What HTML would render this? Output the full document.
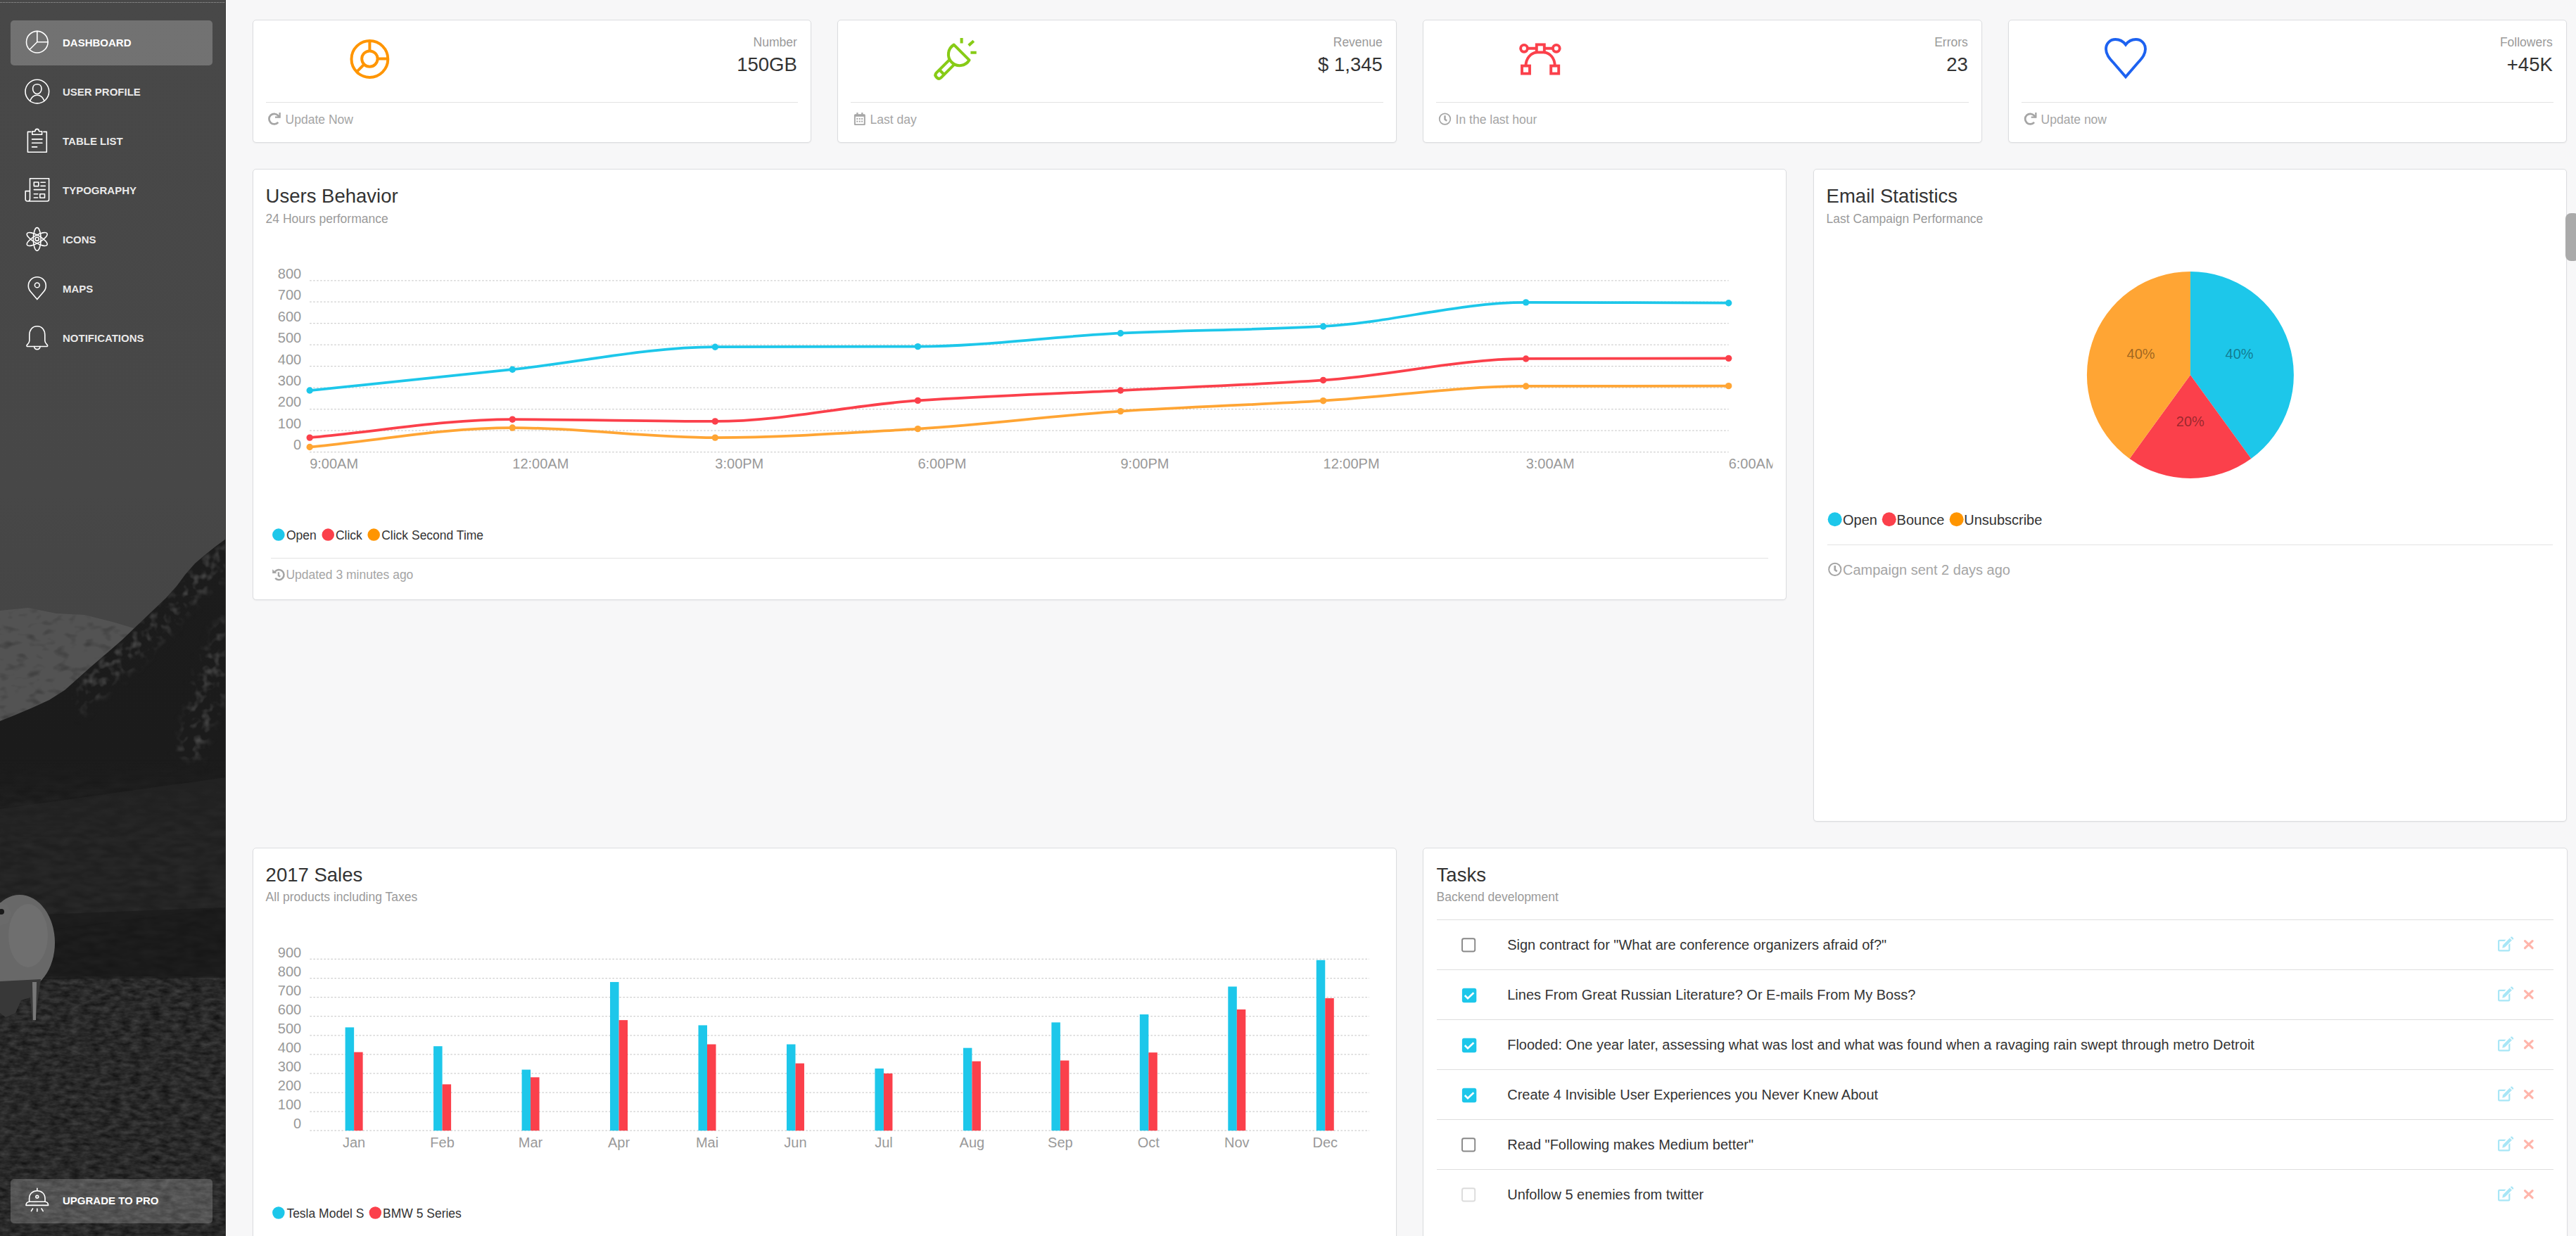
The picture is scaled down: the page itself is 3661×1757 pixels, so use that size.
<!DOCTYPE html><html><head><meta charset="utf-8"><title>Light Bootstrap Dashboard</title><style>

*{margin:0;padding:0;box-sizing:border-box}
html,body{width:3661px;height:1757px;overflow:hidden;background:#f7f7f8;font-family:'Liberation Sans', Arial, sans-serif}
.t{position:absolute;white-space:nowrap;font-family:'Liberation Sans', Arial, sans-serif}
.card{position:absolute;background:#fff;border:1px solid #dcdde0;border-radius:5px;box-shadow:0 1px 2px rgba(0,0,0,.05)}
.sbbg{position:absolute;left:0;top:0}
.ov{position:absolute;left:0;top:0}
.grid{stroke:rgba(0,0,0,.2);stroke-width:1.25;stroke-dasharray:2.5 2.5}
.lbl{font-family:'Liberation Sans', Arial, sans-serif;font-size:20px;fill:#999}
.plbl{font-family:'Liberation Sans', Arial, sans-serif;font-size:20px;fill:rgba(0,0,0,.4);text-anchor:middle}

</style></head><body>
<svg class="sbbg" width="321" height="1757" viewBox="0 0 321 1757"><defs>
<linearGradient id="sky" x1="0" y1="0" x2="0" y2="1"><stop offset="0" stop-color="#484848"/><stop offset="0.4" stop-color="#474747"/><stop offset="0.5" stop-color="#454545"/><stop offset="0.6" stop-color="#434343"/></linearGradient>
<linearGradient id="grd" x1="0" y1="0" x2="0" y2="1"><stop offset="0" stop-color="#1c1c1c"/><stop offset="0.3" stop-color="#1b1b1b"/><stop offset="0.45" stop-color="#1e1e1e"/><stop offset="0.62" stop-color="#222"/><stop offset="1" stop-color="#262626"/></linearGradient>
<filter id="rock" x="0" y="0" width="100%" height="100%" color-interpolation-filters="sRGB"><feTurbulence type="fractalNoise" baseFrequency="0.07 0.16" numOctaves="3" seed="3"/><feColorMatrix type="matrix" values="0.22 0 0 0 0.05  0.22 0 0 0 0.05  0.22 0 0 0 0.05  0 0 0 0 1"/></filter>
<filter id="rock2" x="0" y="0" width="100%" height="100%" color-interpolation-filters="sRGB"><feTurbulence type="fractalNoise" baseFrequency="0.04 0.1" numOctaves="2" seed="11"/><feColorMatrix type="matrix" values="0.12 0 0 0 0.06  0.12 0 0 0 0.06  0.12 0 0 0 0.06  0 0 0 0 1"/></filter>
<filter id="spk" x="0" y="0" width="100%" height="100%" color-interpolation-filters="sRGB"><feTurbulence type="fractalNoise" baseFrequency="0.08" numOctaves="2" seed="7"/><feColorMatrix type="matrix" values="0 0 0 0 0.31  0 0 0 0 0.31  0 0 0 0 0.31  0 0 0 2.4 -1.15"/></filter>
<filter id="snw" x="0" y="0" width="100%" height="100%" color-interpolation-filters="sRGB"><feTurbulence type="fractalNoise" baseFrequency="0.05 0.09" numOctaves="2" seed="5"/><feColorMatrix type="matrix" values="0 0 0 0 0.2  0 0 0 0 0.2  0 0 0 0 0.2  0 0 0 1.8 -0.95"/></filter>
<clipPath id="mtn"><path d="M321,766 L306,777 L291,789 L277,801 L263,817 L252,832 L236,850 L216,869 L195,889 L172,911 L150,930 L129,948 L110,965 L92,981 L70,995 L46,1006 L20,1017 L0,1025 L0,1120 L321,1120 Z"/></clipPath>
<linearGradient id="fx" x1="0" y1="0" x2="1" y2="0"><stop offset="0" stop-color="#000"/><stop offset="0.45" stop-color="#fff"/><stop offset="1" stop-color="#fff"/></linearGradient><mask id="mk" maskUnits="userSpaceOnUse" x="0" y="0" width="321" height="1757"><rect x="200" y="760" width="121" height="330" fill="url(#fx)"/></mask><linearGradient id="fy" x1="0" y1="0" x2="0" y2="1"><stop offset="0" stop-color="#000"/><stop offset="0.4" stop-color="#fff"/></linearGradient><mask id="mk2" maskUnits="userSpaceOnUse" x="0" y="0" width="321" height="1757"><rect x="0" y="1080" width="321" height="310" fill="url(#fy)"/></mask><filter id="bl6" x="-20%" y="-20%" width="140%" height="140%"><feGaussianBlur stdDeviation="7"/></filter><mask id="rbm" maskUnits="userSpaceOnUse" x="0" y="700" width="321" height="450"><g filter="url(#bl6)" fill="#fff"><path d="M321,766 L306,777 L291,789 L277,801 L263,817 L252,832 L236,850 L216,869 L195,889 L172,911 L150,930 L129,948 L110,965 L110,1020 L129,1003 L150,985 L172,966 L195,944 L216,924 L236,905 L252,887 L263,872 L277,856 L291,844 L306,832 L321,821 Z"/><path d="M321,870 L305,890 L285,940 L268,1000 L250,1075 L285,1080 L305,1020 L321,990 Z"/></g></mask><clipPath id="snc"><path d="M0,868 L40,864 L80,872 L120,874 L160,884 L200,896 L225,875 L240,860 L240,1000 L0,1040 Z"/></clipPath>
</defs><rect width="321" height="1757" fill="url(#sky)"/><path d="M0,868 L40,864 L80,872 L120,874 L160,884 L200,896 L225,875 L240,860 L240,1000 L0,1040 Z" fill="#535353"/><rect x="0" y="850" width="240" height="190" filter="url(#snw)" clip-path="url(#snc)"/><path d="M321,766 L306,777 L291,789 L277,801 L263,817 L252,832 L236,850 L216,869 L195,889 L172,911 L150,930 L129,948 L110,965 L92,981 L70,995 L46,1006 L20,1017 L0,1025 L0,1757 L321,1757 Z" fill="url(#grd)"/><g clip-path="url(#mtn)"><rect x="100" y="760" width="221" height="330" filter="url(#spk)" mask="url(#rbm)"/></g><g mask="url(#mk2)"><rect x="0" y="1080" width="321" height="310" filter="url(#rock2)"/></g><rect x="0" y="1388" width="321" height="369" filter="url(#rock)"/><path d="M0,1150 L321,1105 L321,1290 L0,1330 Z" fill="#2a2a2a" opacity="0.45"/><path d="M60,1300 L321,1290 L321,1390 L60,1392 Z" fill="#191919" opacity="0.6"/><ellipse cx="28" cy="1340" rx="50" ry="68" fill="#686868"/><ellipse cx="40" cy="1330" rx="28" ry="45" fill="#727272" opacity="0.7"/><path d="M0,1395 L58,1392 L55,1412 L50,1452 L46,1453 L43,1418 L30,1422 L22,1440 L8,1446 L0,1440 Z" fill="#383838"/><path d="M46,1396 L52,1396 L51,1450 L47,1450 Z" fill="#777"/><path d="M0,1283 L10,1286 L16,1298 L12,1312 L0,1316 Z" fill="#6a6a6a"/><circle cx="2" cy="1296" r="4" fill="#1a1a1a"/></svg>
<div style="position:absolute;left:320px;top:0px;width:1px;height:1757px;background:#393939"></div>
<div style="position:absolute;left:321px;top:0px;width:1px;height:1757px;background:#fff"></div>
<div style="position:absolute;left:0px;top:3px;width:320px;height:1px;background:repeating-linear-gradient(90deg,rgba(255,255,255,.28) 0 3px,rgba(255,255,255,.12) 3px 4px)"></div>
<div style="position:absolute;left:15px;top:29px;width:287px;height:64px;background:rgba(255,255,255,.23);border-radius:5px"></div>
<div style="position:absolute;left:15px;top:1676px;width:287px;height:63px;background:rgba(255,255,255,.2);border-radius:5px"></div>
<div class="t" style="top:52.90px;font-size:15px;line-height:15px;color:#fff;font-weight:700;left:89.00px;">DASHBOARD</div>
<div class="t" style="top:122.90px;font-size:15px;line-height:15px;color:rgba(255,255,255,.9);font-weight:700;left:89.00px;">USER PROFILE</div>
<div class="t" style="top:192.90px;font-size:15px;line-height:15px;color:rgba(255,255,255,.9);font-weight:700;left:89.00px;">TABLE LIST</div>
<div class="t" style="top:262.90px;font-size:15px;line-height:15px;color:rgba(255,255,255,.9);font-weight:700;left:89.00px;">TYPOGRAPHY</div>
<div class="t" style="top:332.90px;font-size:15px;line-height:15px;color:rgba(255,255,255,.9);font-weight:700;left:89.00px;">ICONS</div>
<div class="t" style="top:402.90px;font-size:15px;line-height:15px;color:rgba(255,255,255,.9);font-weight:700;left:89.00px;">MAPS</div>
<div class="t" style="top:472.90px;font-size:15px;line-height:15px;color:rgba(255,255,255,.9);font-weight:700;left:89.00px;">NOTIFICATIONS</div>
<div class="t" style="top:1698.50px;font-size:15px;line-height:15px;color:#fff;font-weight:700;left:89.00px;">UPGRADE TO PRO</div>
<svg class="ov" width="321" height="1757"><g fill="none" stroke="#fff" stroke-width="1.6" stroke-linecap="round" stroke-linejoin="round"><circle cx="52.8" cy="59.7" r="15.3"/><path d="M52.8,44.4 V59.7 H68.1 M52.8,59.7 L42,70.5"/></g><g fill="none" stroke="#fff" stroke-width="1.6" stroke-linecap="round" stroke-linejoin="round" stroke="#e8e8e8"><circle cx="52.8" cy="130.1" r="16.8"/><path d="M46.6,126 C46.6,122 49.3,119.8 52.8,119.8 C56.3,119.8 59,122 59,126 C59,130 56.5,133.5 52.8,133.5 C49.1,133.5 46.6,130 46.6,126 Z"/><path d="M42.6,143.5 C44.5,138.3 48,135.2 52.8,135.2 C57.6,135.2 61.1,138.3 63,143.5"/></g><g fill="none" stroke="#fff" stroke-width="1.6" stroke-linecap="round" stroke-linejoin="round" stroke="#e8e8e8" stroke-linecap="butt" stroke-linejoin="miter"><path d="M43.8,187.4 H39.4 V216.2 H66.3 V187.4 H61.9"/><path d="M45.8,191.2 H59.6 V186.8 H55.6 C55.4,184.6 54.3,183.4 52.7,183.4 C51.1,183.4 50,184.6 49.8,186.8 H45.8 Z"/><path d="M45.6,197.9 H59.9 M45.6,203.2 H59.9 M45.6,208.9 H52.6"/></g><g fill="none" stroke="#fff" stroke-width="1.6" stroke-linecap="round" stroke-linejoin="round" stroke="#e8e8e8" stroke-linecap="butt" stroke-linejoin="round"><path d="M42.5,253.8 H69.6 V283.5 C69.6,285 68.6,286 67,286 H39 C37.2,286 36.2,284.6 36.2,283 V271.6 H42.5 Z M42.5,271.6 V283 C42.5,284.8 41.4,286 39.4,286"/><rect x="48.3" y="259" width="6.5" height="5.6"/><rect x="56.8" y="275.7" width="6.7" height="5.6"/><path d="M58,259.3 H64.3 M58,264.4 H64.3 M48.3,269.6 H64.3 M48.3,275.8 H53.8 M48.3,281 H53.8"/></g><g fill="none" stroke="#fff" stroke-width="1.6" stroke-linecap="round" stroke-linejoin="round" stroke="#e8e8e8" stroke-width="1.5"><ellipse cx="52.7" cy="340" rx="5.4" ry="16.4"/><ellipse cx="52.7" cy="340" rx="5.4" ry="16.4" transform="rotate(60 52.7 340)"/><ellipse cx="52.7" cy="340" rx="5.4" ry="16.4" transform="rotate(-60 52.7 340)"/><circle cx="52.7" cy="339.8" r="2.6"/></g><g fill="none" stroke="#fff" stroke-width="1.6" stroke-linecap="round" stroke-linejoin="round" stroke="#e8e8e8" stroke-width="1.5"><path d="M52.8,425.6 L43.2,414.2 A12.5,12.5 0 1 1 62.4,414.2 Z"/><circle cx="52.8" cy="405.4" r="3.4"/></g><g fill="none" stroke="#fff" stroke-width="1.6" stroke-linecap="round" stroke-linejoin="round" stroke="#e8e8e8" stroke-width="1.5"><path d="M52.8,463.8 C45.5,463.8 41.8,469.5 41.8,476 V484.5 C41.8,487 39.5,489 38.2,490.6 C37.5,491.6 38.2,492.5 39.5,492.5 H66.1 C67.4,492.5 68.1,491.6 67.4,490.6 C66.1,489 63.8,487 63.8,484.5 V476 C63.8,469.5 60.1,463.8 52.8,463.8 Z"/><path d="M48.6,492.6 C48.9,495.2 50.6,496.6 52.8,496.6 C55,496.6 56.7,495.2 57,492.6"/></g><g fill="none" stroke="#fff" stroke-width="1.6" stroke-linecap="round" stroke-linejoin="round" stroke-width="1.5"><path d="M52.8,1689.3 V1692.6"/><path d="M41.6,1708 V1703.6 C41.6,1697 46.4,1692.8 52.8,1692.8 C59.2,1692.8 64,1697 64,1703.6 V1708"/><circle cx="52.8" cy="1701.3" r="1.9"/><path d="M37,1713.4 C37,1710 39.5,1708.2 42.5,1708.2 H63.1 C66.1,1708.2 68.6,1710 68.6,1713.4 Z"/><path d="M46.6,1718 L44.4,1721.6 M52.8,1718.2 V1722 M59,1718 L61.2,1721.6"/></g></svg>
<div class="card" style="left:359px;top:28px;width:794px;height:175px"></div>
<div style="position:absolute;left:378px;top:145px;width:756px;height:1px;background:#e3e3e3"></div>
<div class="t" style="top:51.89px;font-size:17.5px;line-height:17.5px;color:#9a9a9a;right:2528.20px;text-align:right;">Number</div>
<div class="t" style="top:78.42px;font-size:27.5px;line-height:27.5px;color:#333;right:2528.20px;text-align:right;">150GB</div>
<div class="t" style="top:162.09px;font-size:17.5px;line-height:17.5px;color:#a5a5a5;left:405.60px;">Update Now</div>
<div class="card" style="left:1190px;top:28px;width:795px;height:175px"></div>
<div style="position:absolute;left:1209px;top:145px;width:757px;height:1px;background:#e3e3e3"></div>
<div class="t" style="top:51.89px;font-size:17.5px;line-height:17.5px;color:#9a9a9a;right:1696.20px;text-align:right;">Revenue</div>
<div class="t" style="top:78.42px;font-size:27.5px;line-height:27.5px;color:#333;right:1696.20px;text-align:right;">$ 1,345</div>
<div class="t" style="top:162.09px;font-size:17.5px;line-height:17.5px;color:#a5a5a5;left:1236.60px;">Last day</div>
<div class="card" style="left:2022px;top:28px;width:795px;height:175px"></div>
<div style="position:absolute;left:2041px;top:145px;width:757px;height:1px;background:#e3e3e3"></div>
<div class="t" style="top:51.89px;font-size:17.5px;line-height:17.5px;color:#9a9a9a;right:864.20px;text-align:right;">Errors</div>
<div class="t" style="top:78.42px;font-size:27.5px;line-height:27.5px;color:#333;right:864.20px;text-align:right;">23</div>
<div class="t" style="top:162.09px;font-size:17.5px;line-height:17.5px;color:#a5a5a5;left:2068.60px;">In the last hour</div>
<div class="card" style="left:2854px;top:28px;width:794px;height:175px"></div>
<div style="position:absolute;left:2873px;top:145px;width:756px;height:1px;background:#e3e3e3"></div>
<div class="t" style="top:51.89px;font-size:17.5px;line-height:17.5px;color:#9a9a9a;right:33.20px;text-align:right;">Followers</div>
<div class="t" style="top:78.42px;font-size:27.5px;line-height:27.5px;color:#333;right:33.20px;text-align:right;">+45K</div>
<div class="t" style="top:162.09px;font-size:17.5px;line-height:17.5px;color:#a5a5a5;left:2900.60px;">Update now</div>
<div class="card" style="left:359px;top:240px;width:2180px;height:613px"></div>
<div class="t" style="top:264.52px;font-size:27.5px;line-height:27.5px;color:#333;left:377.60px;">Users Behavior</div>
<div class="t" style="top:303.09px;font-size:17.5px;line-height:17.5px;color:#9a9a9a;left:377.60px;">24 Hours performance</div>
<div class="t" style="top:752.59px;font-size:17.5px;line-height:17.5px;color:#333;left:406.90px;">Open</div>
<div class="t" style="top:752.59px;font-size:17.5px;line-height:17.5px;color:#333;left:476.90px;">Click</div>
<div class="t" style="top:752.59px;font-size:17.5px;line-height:17.5px;color:#333;left:542.20px;">Click Second Time</div>
<div style="position:absolute;left:385px;top:793px;width:2128px;height:1px;background:#e3e3e3"></div>
<div class="t" style="top:809.39px;font-size:17.5px;line-height:17.5px;color:#a5a5a5;left:406.40px;">Updated 3 minutes ago</div>
<div class="card" style="left:2577px;top:240px;width:1071px;height:928px"></div>
<div class="t" style="top:264.52px;font-size:27.5px;line-height:27.5px;color:#333;left:2595.60px;">Email Statistics</div>
<div class="t" style="top:303.09px;font-size:17.5px;line-height:17.5px;color:#9a9a9a;left:2595.60px;">Last Campaign Performance</div>
<div class="t" style="top:728.77px;font-size:20px;line-height:20px;color:#333;left:2619.00px;">Open</div>
<div class="t" style="top:728.77px;font-size:20px;line-height:20px;color:#333;left:2695.60px;">Bounce</div>
<div class="t" style="top:728.77px;font-size:20px;line-height:20px;color:#333;left:2791.20px;">Unsubscribe</div>
<div style="position:absolute;left:2597px;top:774px;width:1031px;height:1px;background:#e3e3e3"></div>
<div class="t" style="top:800.07px;font-size:20px;line-height:20px;color:#a5a5a5;left:2619.00px;">Campaign sent 2 days ago</div>
<div class="card" style="left:359px;top:1205px;width:1626px;height:600px"></div>
<div class="t" style="top:1229.72px;font-size:27.5px;line-height:27.5px;color:#333;left:377.60px;">2017 Sales</div>
<div class="t" style="top:1266.99px;font-size:17.5px;line-height:17.5px;color:#9a9a9a;left:377.60px;">All products including Taxes</div>
<div class="t" style="top:1716.59px;font-size:17.5px;line-height:17.5px;color:#333;left:407.40px;">Tesla Model S</div>
<div class="t" style="top:1716.59px;font-size:17.5px;line-height:17.5px;color:#333;left:544.00px;">BMW 5 Series</div>
<div class="card" style="left:2022px;top:1205px;width:1627px;height:600px"></div>
<div class="t" style="top:1229.62px;font-size:27.5px;line-height:27.5px;color:#333;left:2041.60px;">Tasks</div>
<div class="t" style="top:1266.89px;font-size:17.5px;line-height:17.5px;color:#9a9a9a;left:2041.60px;">Backend development</div>
<div style="position:absolute;left:2042px;top:1307px;width:1587px;height:1px;background:#dedede"></div>
<div style="position:absolute;left:2042px;top:1378px;width:1587px;height:1px;background:#dedede"></div>
<div style="position:absolute;left:2042px;top:1449px;width:1587px;height:1px;background:#dedede"></div>
<div style="position:absolute;left:2042px;top:1520px;width:1587px;height:1px;background:#dedede"></div>
<div style="position:absolute;left:2042px;top:1591px;width:1587px;height:1px;background:#dedede"></div>
<div style="position:absolute;left:2042px;top:1662px;width:1587px;height:1px;background:#dedede"></div>
<div class="t" style="top:1333.47px;font-size:20px;line-height:20px;color:#333;left:2142.20px;">Sign contract for &quot;What are conference organizers afraid of?&quot;</div>
<div class="t" style="top:1404.47px;font-size:20px;line-height:20px;color:#333;left:2142.20px;">Lines From Great Russian Literature? Or E-mails From My Boss?</div>
<div class="t" style="top:1475.47px;font-size:20px;line-height:20px;color:#333;left:2142.20px;">Flooded: One year later, assessing what was lost and what was found when a ravaging rain swept through metro Detroit</div>
<div class="t" style="top:1546.47px;font-size:20px;line-height:20px;color:#333;left:2142.20px;">Create 4 Invisible User Experiences you Never Knew About</div>
<div class="t" style="top:1617.47px;font-size:20px;line-height:20px;color:#333;left:2142.20px;">Read &quot;Following makes Medium better&quot;</div>
<div class="t" style="top:1688.47px;font-size:20px;line-height:20px;color:#333;left:2142.20px;">Unfollow 5 enemies from twitter</div>
<div style="position:absolute;left:3646px;top:303px;width:20px;height:68px;background:#aaa;border-radius:8px"></div>
<svg class="ov" width="3661" height="1757" viewBox="0 0 3661 1757"><g transform="translate(389.7,169.1) scale(1.0)"><path d="M7.7,-2.2 L5.6,-4.7 A7.3,7.3 0 1 0 5.6,4.7" fill="none" stroke="#a5a5a5" stroke-width="2.75"/><path d="M9.1,-9.1 L9.1,-1.3 L1.3,-1.3 L1.3,-3.6 L6.8,-3.6 L6.8,-9.1 Z" fill="#a5a5a5"/></g><g transform="translate(1213.9,162.3)" fill="#a5a5a5"><path fill-rule="evenodd" d="M1.5,0 H14.4 A1.5,1.5 0 0 1 15.9,1.5 V14.1 A1.5,1.5 0 0 1 14.4,15.6 H1.5 A1.5,1.5 0 0 1 0,14.1 V1.5 A1.5,1.5 0 0 1 1.5,0 Z M1.9,3.5 V13.9 H13.9 V3.5 Z"/><rect x="3.4" y="-2.2" width="2.2" height="2.6"/><rect x="10.3" y="-2.2" width="2.2" height="2.6"/><rect x="3.4" y="5.6" width="2" height="2"/><rect x="3.4" y="9.3" width="2" height="2"/><rect x="6.9" y="5.6" width="2" height="2"/><rect x="6.9" y="9.3" width="2" height="2"/><rect x="10.2" y="5.6" width="2" height="2"/><rect x="10.2" y="9.3" width="2" height="2"/></g><g transform="translate(2053.5,169.1) scale(1.0)" fill="none" stroke="#a5a5a5"><circle r="7.8" stroke-width="1.75"/><path d="M0,-4.9 V0.6 L2.7,2.6" stroke-width="2.4" stroke-linejoin="miter"/></g><g transform="translate(2885.4,169.1) scale(1.0)"><path d="M7.7,-2.2 L5.6,-4.7 A7.3,7.3 0 1 0 5.6,4.7" fill="none" stroke="#a5a5a5" stroke-width="2.75"/><path d="M9.1,-9.1 L9.1,-1.3 L1.3,-1.3 L1.3,-3.6 L6.8,-3.6 L6.8,-9.1 Z" fill="#a5a5a5"/></g><g fill="none" stroke="#FF9500" stroke-width="4"><circle cx="525.4" cy="84" r="25.9"/><circle cx="525.4" cy="83.6" r="11.2"/><path d="M525.4,58.1 V72.4 M536.6,83.6 H551.3 M517.5,91.5 L507.1,101.9"/></g><g transform="translate(1366.6,74.5) rotate(45)" fill="none" stroke="#87CB16" stroke-width="4.1" stroke-linejoin="round"><path d="M-15.4,0 L15.4,0 A15.9,15.9 0 1 1 -15.4,0 Z"/><path d="M-4.8,19.1 V46 Q-4.8,50.2 0,50.2 Q4.8,50.2 4.8,46 V19.1 M-4.8,39.8 H4.8"/></g><g stroke="#87CB16" stroke-width="4.1" fill="none"><path d="M1366.6,54.1 V61.6 M1376.7,64.6 L1383.8,58.3 M1379.4,74.8 H1387.7"/></g><g fill="none" stroke="#FB404B" stroke-width="3.9"><circle cx="2166" cy="68.8" r="4.9"/><circle cx="2211.8" cy="68.8" r="4.9"/><rect x="2183.8" y="63.4" width="11" height="11"/><rect x="2163" y="93.6" width="11" height="11"/><rect x="2204.2" y="93.6" width="11" height="11"/><path d="M2170.9,68.8 H2183.8 M2194.8,68.8 H2206.9"/><path d="M2168.5,93.6 C2168.5,83 2175,75.5 2184.5,74 M2209.7,93.6 C2209.7,83 2203.5,75.5 2194,74"/></g><path d="M3021,63.5 C3016.5,57.5 3011.5,56 3006.5,56 C2999,56 2993,61.5 2993,69.8 C2993,77 2997.5,82.5 3003.5,89 L3021,109.3 L3038.5,89 C3044.5,82.5 3049,77 3049,69.8 C3049,61.5 3043,56 3035.5,56 C3030.5,56 3025.5,57.5 3021,63.5 Z" fill="none" stroke="#1D62F0" stroke-width="3.9" stroke-linejoin="miter"/><line x1="440.2" y1="642.50" x2="2456.7" y2="642.50" class="grid"/><text x="428.2" y="639.40" class="lbl" text-anchor="end">0</text><line x1="440.2" y1="612.03" x2="2456.7" y2="612.03" class="grid"/><text x="428.2" y="608.93" class="lbl" text-anchor="end">100</text><line x1="440.2" y1="581.56" x2="2456.7" y2="581.56" class="grid"/><text x="428.2" y="578.46" class="lbl" text-anchor="end">200</text><line x1="440.2" y1="551.09" x2="2456.7" y2="551.09" class="grid"/><text x="428.2" y="547.99" class="lbl" text-anchor="end">300</text><line x1="440.2" y1="520.62" x2="2456.7" y2="520.62" class="grid"/><text x="428.2" y="517.52" class="lbl" text-anchor="end">400</text><line x1="440.2" y1="490.16" x2="2456.7" y2="490.16" class="grid"/><text x="428.2" y="487.06" class="lbl" text-anchor="end">500</text><line x1="440.2" y1="459.69" x2="2456.7" y2="459.69" class="grid"/><text x="428.2" y="456.59" class="lbl" text-anchor="end">600</text><line x1="440.2" y1="429.22" x2="2456.7" y2="429.22" class="grid"/><text x="428.2" y="426.12" class="lbl" text-anchor="end">700</text><line x1="440.2" y1="398.75" x2="2456.7" y2="398.75" class="grid"/><text x="428.2" y="395.65" class="lbl" text-anchor="end">800</text><clipPath id="lc"><rect x="300" y="600" width="2219.5" height="100"/></clipPath><g clip-path="url(#lc)"><text x="440.20" y="665.8" class="lbl">9:00AM</text><text x="728.27" y="665.8" class="lbl">12:00AM</text><text x="1016.34" y="665.8" class="lbl">3:00PM</text><text x="1304.41" y="665.8" class="lbl">6:00PM</text><text x="1592.49" y="665.8" class="lbl">9:00PM</text><text x="1880.56" y="665.8" class="lbl">12:00PM</text><text x="2168.63" y="665.8" class="lbl">3:00AM</text><text x="2456.70" y="665.8" class="lbl">6:00AM</text></g><path d="M440.20,635.49 C536.22,626.35 632.25,608.07 728.27,608.07 C824.30,608.07 920.32,622.09 1016.34,622.09 C1112.37,622.09 1208.39,615.15 1304.41,609.59 C1400.44,604.04 1496.46,590.84 1592.49,584.61 C1688.51,578.38 1784.53,575.46 1880.56,569.68 C1976.58,563.89 2072.60,549.16 2168.63,548.96 C2264.65,548.76 2360.68,548.76 2456.70,548.66" fill="none" stroke="#FFA534" stroke-width="3.75"/><circle cx="440.20" cy="635.49" r="4.7" fill="#FFA534"/><circle cx="728.27" cy="608.07" r="4.7" fill="#FFA534"/><circle cx="1016.34" cy="622.09" r="4.7" fill="#FFA534"/><circle cx="1304.41" cy="609.59" r="4.7" fill="#FFA534"/><circle cx="1592.49" cy="584.61" r="4.7" fill="#FFA534"/><circle cx="1880.56" cy="569.68" r="4.7" fill="#FFA534"/><circle cx="2168.63" cy="548.96" r="4.7" fill="#FFA534"/><circle cx="2456.70" cy="548.66" r="4.7" fill="#FFA534"/><path d="M440.20,622.09 C536.22,613.45 632.25,596.19 728.27,596.19 C824.30,596.19 920.32,598.93 1016.34,598.93 C1112.37,598.93 1208.39,575.81 1304.41,569.38 C1400.44,562.94 1496.46,559.88 1592.49,555.05 C1688.51,550.23 1784.53,547.02 1880.56,540.43 C1976.58,533.84 2072.60,510.36 2168.63,509.96 C2264.65,509.56 2360.68,509.55 2456.70,509.35" fill="none" stroke="#FB404B" stroke-width="3.75"/><circle cx="440.20" cy="622.09" r="4.7" fill="#FB404B"/><circle cx="728.27" cy="596.19" r="4.7" fill="#FB404B"/><circle cx="1016.34" cy="598.93" r="4.7" fill="#FB404B"/><circle cx="1304.41" cy="569.38" r="4.7" fill="#FB404B"/><circle cx="1592.49" cy="555.05" r="4.7" fill="#FB404B"/><circle cx="1880.56" cy="540.43" r="4.7" fill="#FB404B"/><circle cx="2168.63" cy="509.96" r="4.7" fill="#FB404B"/><circle cx="2456.70" cy="509.35" r="4.7" fill="#FB404B"/><path d="M440.20,555.05 C536.22,545.10 632.25,535.49 728.27,525.20 C824.30,514.90 920.32,493.60 1016.34,493.20 C1112.37,492.80 1208.39,492.99 1304.41,492.59 C1400.44,492.20 1496.46,477.99 1592.49,473.70 C1688.51,469.42 1784.53,469.01 1880.56,463.95 C1976.58,458.90 2072.60,429.83 2168.63,429.83 C2264.65,429.83 2360.68,430.44 2456.70,430.74" fill="none" stroke="#1DC7EA" stroke-width="3.75"/><circle cx="440.20" cy="555.05" r="4.7" fill="#1DC7EA"/><circle cx="728.27" cy="525.20" r="4.7" fill="#1DC7EA"/><circle cx="1016.34" cy="493.20" r="4.7" fill="#1DC7EA"/><circle cx="1304.41" cy="492.59" r="4.7" fill="#1DC7EA"/><circle cx="1592.49" cy="473.70" r="4.7" fill="#1DC7EA"/><circle cx="1880.56" cy="463.95" r="4.7" fill="#1DC7EA"/><circle cx="2168.63" cy="429.83" r="4.7" fill="#1DC7EA"/><circle cx="2456.70" cy="430.74" r="4.7" fill="#1DC7EA"/><circle cx="395.85" cy="760.1" r="8.75" fill="#1DC7EA"/><circle cx="466.25" cy="760.1" r="8.75" fill="#FB404B"/><circle cx="531.2" cy="760.1" r="8.75" fill="#FF9500"/><g transform="translate(396.4,817.1) scale(1.0)"><path d="M-5.92,-3.92 A7.1,7.1 0 1 1 -5.19,4.84" fill="none" stroke="#a5a5a5" stroke-width="2.6"/><path d="M-9.2,-7.9 L-9.2,-2.1 L-3,-2.1 Z" fill="#a5a5a5"/><path d="M-0.5,-3.8 V1.2 L1.9,2.5" fill="none" stroke="#a5a5a5" stroke-width="2.4" stroke-linejoin="miter"/></g><path d="M3112.9,533.0 L3112.90,386.00 A147.0,147.0 0 0 1 3199.30,651.93 Z" fill="#1DC7EA"/><path d="M3112.9,533.0 L3199.30,651.93 A147.0,147.0 0 0 1 3026.50,651.93 Z" fill="#FB404B"/><path d="M3112.9,533.0 L3026.50,651.93 A147.0,147.0 0 0 1 3112.90,386.00 Z" fill="#FFA534"/><text x="3182.6" y="509.9" class="plbl">40%</text><text x="3042.6" y="509.9" class="plbl">40%</text><text x="3112.8" y="606.1" class="plbl">20%</text><circle cx="2607.7" cy="738.3" r="10.00" fill="#1DC7EA"/><circle cx="2684.8" cy="738.3" r="10.00" fill="#FB404B"/><circle cx="2780.7" cy="738.3" r="10.00" fill="#FF9500"/><g transform="translate(2607.8,809.4) scale(1.107)" fill="none" stroke="#a5a5a5"><circle r="7.8" stroke-width="1.75"/><path d="M0,-4.9 V0.6 L2.7,2.6" stroke-width="2.4" stroke-linejoin="miter"/></g><line x1="440.4" y1="1607.20" x2="1946.0" y2="1607.20" class="grid"/><text x="428.2" y="1604.30" class="lbl" text-anchor="end">0</text><line x1="440.4" y1="1580.12" x2="1946.0" y2="1580.12" class="grid"/><text x="428.2" y="1577.22" class="lbl" text-anchor="end">100</text><line x1="440.4" y1="1553.03" x2="1946.0" y2="1553.03" class="grid"/><text x="428.2" y="1550.13" class="lbl" text-anchor="end">200</text><line x1="440.4" y1="1525.95" x2="1946.0" y2="1525.95" class="grid"/><text x="428.2" y="1523.05" class="lbl" text-anchor="end">300</text><line x1="440.4" y1="1498.87" x2="1946.0" y2="1498.87" class="grid"/><text x="428.2" y="1495.97" class="lbl" text-anchor="end">400</text><line x1="440.4" y1="1471.78" x2="1946.0" y2="1471.78" class="grid"/><text x="428.2" y="1468.88" class="lbl" text-anchor="end">500</text><line x1="440.4" y1="1444.70" x2="1946.0" y2="1444.70" class="grid"/><text x="428.2" y="1441.80" class="lbl" text-anchor="end">600</text><line x1="440.4" y1="1417.62" x2="1946.0" y2="1417.62" class="grid"/><text x="428.2" y="1414.72" class="lbl" text-anchor="end">700</text><line x1="440.4" y1="1390.53" x2="1946.0" y2="1390.53" class="grid"/><text x="428.2" y="1387.63" class="lbl" text-anchor="end">800</text><line x1="440.4" y1="1363.45" x2="1946.0" y2="1363.45" class="grid"/><text x="428.2" y="1360.55" class="lbl" text-anchor="end">900</text><rect x="490.63" y="1460.41" width="12.5" height="146.79" fill="#1DC7EA"/><rect x="503.13" y="1495.62" width="12.5" height="111.58" fill="#FB404B"/><text x="503.13" y="1630.8" class="lbl" text-anchor="middle">Jan</text><rect x="616.10" y="1487.22" width="12.5" height="119.98" fill="#1DC7EA"/><rect x="628.60" y="1541.39" width="12.5" height="65.81" fill="#FB404B"/><text x="628.60" y="1630.8" class="lbl" text-anchor="middle">Feb</text><rect x="741.57" y="1520.53" width="12.5" height="86.67" fill="#1DC7EA"/><rect x="754.07" y="1531.37" width="12.5" height="75.83" fill="#FB404B"/><text x="754.07" y="1630.8" class="lbl" text-anchor="middle">Mar</text><rect x="867.03" y="1395.95" width="12.5" height="211.25" fill="#1DC7EA"/><rect x="879.53" y="1450.12" width="12.5" height="157.08" fill="#FB404B"/><text x="879.53" y="1630.8" class="lbl" text-anchor="middle">Apr</text><rect x="992.50" y="1457.43" width="12.5" height="149.77" fill="#1DC7EA"/><rect x="1005.00" y="1484.51" width="12.5" height="122.69" fill="#FB404B"/><text x="1005.00" y="1630.8" class="lbl" text-anchor="middle">Mai</text><rect x="1117.97" y="1484.51" width="12.5" height="122.69" fill="#1DC7EA"/><rect x="1130.47" y="1511.60" width="12.5" height="95.60" fill="#FB404B"/><text x="1130.47" y="1630.8" class="lbl" text-anchor="middle">Jun</text><rect x="1243.43" y="1518.91" width="12.5" height="88.29" fill="#1DC7EA"/><rect x="1255.93" y="1525.95" width="12.5" height="81.25" fill="#FB404B"/><text x="1255.93" y="1630.8" class="lbl" text-anchor="middle">Jul</text><rect x="1368.90" y="1489.66" width="12.5" height="117.54" fill="#1DC7EA"/><rect x="1381.40" y="1508.62" width="12.5" height="98.58" fill="#FB404B"/><text x="1381.40" y="1630.8" class="lbl" text-anchor="middle">Aug</text><rect x="1494.37" y="1453.37" width="12.5" height="153.83" fill="#1DC7EA"/><rect x="1506.87" y="1507.53" width="12.5" height="99.67" fill="#FB404B"/><text x="1506.87" y="1630.8" class="lbl" text-anchor="middle">Sep</text><rect x="1619.83" y="1441.99" width="12.5" height="165.21" fill="#1DC7EA"/><rect x="1632.33" y="1496.16" width="12.5" height="111.04" fill="#FB404B"/><text x="1632.33" y="1630.8" class="lbl" text-anchor="middle">Oct</text><rect x="1745.30" y="1402.45" width="12.5" height="204.75" fill="#1DC7EA"/><rect x="1757.80" y="1434.95" width="12.5" height="172.25" fill="#FB404B"/><text x="1757.80" y="1630.8" class="lbl" text-anchor="middle">Nov</text><rect x="1870.77" y="1364.80" width="12.5" height="242.40" fill="#1DC7EA"/><rect x="1883.27" y="1418.97" width="12.5" height="188.23" fill="#FB404B"/><text x="1883.27" y="1630.8" class="lbl" text-anchor="middle">Dec</text><circle cx="395.85" cy="1724" r="8.75" fill="#1DC7EA"/><circle cx="533.35" cy="1724" r="8.75" fill="#FB404B"/><rect x="2078" y="1334.30" width="18.2" height="18.2" rx="2.5" fill="#fff" stroke="#888" stroke-width="1.9"/><g transform="translate(3550,1332.30)" fill="#a8e6f6"><path d="M2.2,3.4 H11.5 L9.3,5.6 H2.2 V17.9 H15.2 V10.7 L17.4,8.5 V18 A2.2,2.2 0 0 1 15.2,20.2 H2.2 A2.2,2.2 0 0 1 0,18 V5.6 A2.2,2.2 0 0 1 2.2,3.4 Z"/><path d="M6.3,15.4 L7,11.1 L16.8,1.3 L19.9,4.4 L10.1,14.2 Z"/><path d="M17.8,0.3 L18.6,-0.5 C19.1,-1 19.8,-1 20.3,-0.5 L21.9,1.1 C22.4,1.6 22.4,2.3 21.9,2.8 L21.1,3.6 Z"/></g><path d="M3588.5,1337.60 L3599.1,1347.70 M3599.1,1337.60 L3588.5,1347.70" stroke="#ffb5ab" stroke-width="3.2" stroke-linecap="round"/><rect x="2077.9" y="1404.80" width="20.4" height="20.4" rx="3" fill="#1DC7EA"/><path d="M2081.8,1415.00 L2086,1419.10 L2094.4,1411.30" fill="none" stroke="#fff" stroke-width="2.6"/><g transform="translate(3550,1403.30)" fill="#a8e6f6"><path d="M2.2,3.4 H11.5 L9.3,5.6 H2.2 V17.9 H15.2 V10.7 L17.4,8.5 V18 A2.2,2.2 0 0 1 15.2,20.2 H2.2 A2.2,2.2 0 0 1 0,18 V5.6 A2.2,2.2 0 0 1 2.2,3.4 Z"/><path d="M6.3,15.4 L7,11.1 L16.8,1.3 L19.9,4.4 L10.1,14.2 Z"/><path d="M17.8,0.3 L18.6,-0.5 C19.1,-1 19.8,-1 20.3,-0.5 L21.9,1.1 C22.4,1.6 22.4,2.3 21.9,2.8 L21.1,3.6 Z"/></g><path d="M3588.5,1408.60 L3599.1,1418.70 M3599.1,1408.60 L3588.5,1418.70" stroke="#ffb5ab" stroke-width="3.2" stroke-linecap="round"/><rect x="2077.9" y="1475.80" width="20.4" height="20.4" rx="3" fill="#1DC7EA"/><path d="M2081.8,1486.00 L2086,1490.10 L2094.4,1482.30" fill="none" stroke="#fff" stroke-width="2.6"/><g transform="translate(3550,1474.30)" fill="#a8e6f6"><path d="M2.2,3.4 H11.5 L9.3,5.6 H2.2 V17.9 H15.2 V10.7 L17.4,8.5 V18 A2.2,2.2 0 0 1 15.2,20.2 H2.2 A2.2,2.2 0 0 1 0,18 V5.6 A2.2,2.2 0 0 1 2.2,3.4 Z"/><path d="M6.3,15.4 L7,11.1 L16.8,1.3 L19.9,4.4 L10.1,14.2 Z"/><path d="M17.8,0.3 L18.6,-0.5 C19.1,-1 19.8,-1 20.3,-0.5 L21.9,1.1 C22.4,1.6 22.4,2.3 21.9,2.8 L21.1,3.6 Z"/></g><path d="M3588.5,1479.60 L3599.1,1489.70 M3599.1,1479.60 L3588.5,1489.70" stroke="#ffb5ab" stroke-width="3.2" stroke-linecap="round"/><rect x="2077.9" y="1546.80" width="20.4" height="20.4" rx="3" fill="#1DC7EA"/><path d="M2081.8,1557.00 L2086,1561.10 L2094.4,1553.30" fill="none" stroke="#fff" stroke-width="2.6"/><g transform="translate(3550,1545.30)" fill="#a8e6f6"><path d="M2.2,3.4 H11.5 L9.3,5.6 H2.2 V17.9 H15.2 V10.7 L17.4,8.5 V18 A2.2,2.2 0 0 1 15.2,20.2 H2.2 A2.2,2.2 0 0 1 0,18 V5.6 A2.2,2.2 0 0 1 2.2,3.4 Z"/><path d="M6.3,15.4 L7,11.1 L16.8,1.3 L19.9,4.4 L10.1,14.2 Z"/><path d="M17.8,0.3 L18.6,-0.5 C19.1,-1 19.8,-1 20.3,-0.5 L21.9,1.1 C22.4,1.6 22.4,2.3 21.9,2.8 L21.1,3.6 Z"/></g><path d="M3588.5,1550.60 L3599.1,1560.70 M3599.1,1550.60 L3588.5,1560.70" stroke="#ffb5ab" stroke-width="3.2" stroke-linecap="round"/><rect x="2078" y="1618.30" width="18.2" height="18.2" rx="2.5" fill="#fff" stroke="#888" stroke-width="1.9"/><g transform="translate(3550,1616.30)" fill="#a8e6f6"><path d="M2.2,3.4 H11.5 L9.3,5.6 H2.2 V17.9 H15.2 V10.7 L17.4,8.5 V18 A2.2,2.2 0 0 1 15.2,20.2 H2.2 A2.2,2.2 0 0 1 0,18 V5.6 A2.2,2.2 0 0 1 2.2,3.4 Z"/><path d="M6.3,15.4 L7,11.1 L16.8,1.3 L19.9,4.4 L10.1,14.2 Z"/><path d="M17.8,0.3 L18.6,-0.5 C19.1,-1 19.8,-1 20.3,-0.5 L21.9,1.1 C22.4,1.6 22.4,2.3 21.9,2.8 L21.1,3.6 Z"/></g><path d="M3588.5,1621.60 L3599.1,1631.70 M3599.1,1621.60 L3588.5,1631.70" stroke="#ffb5ab" stroke-width="3.2" stroke-linecap="round"/><rect x="2078" y="1689.30" width="18.2" height="18.2" rx="2.5" fill="#fff" stroke="#dcdcdc" stroke-width="1.9"/><g transform="translate(3550,1687.30)" fill="#a8e6f6"><path d="M2.2,3.4 H11.5 L9.3,5.6 H2.2 V17.9 H15.2 V10.7 L17.4,8.5 V18 A2.2,2.2 0 0 1 15.2,20.2 H2.2 A2.2,2.2 0 0 1 0,18 V5.6 A2.2,2.2 0 0 1 2.2,3.4 Z"/><path d="M6.3,15.4 L7,11.1 L16.8,1.3 L19.9,4.4 L10.1,14.2 Z"/><path d="M17.8,0.3 L18.6,-0.5 C19.1,-1 19.8,-1 20.3,-0.5 L21.9,1.1 C22.4,1.6 22.4,2.3 21.9,2.8 L21.1,3.6 Z"/></g><path d="M3588.5,1692.60 L3599.1,1702.70 M3599.1,1692.60 L3588.5,1702.70" stroke="#ffb5ab" stroke-width="3.2" stroke-linecap="round"/></svg>
</body></html>
